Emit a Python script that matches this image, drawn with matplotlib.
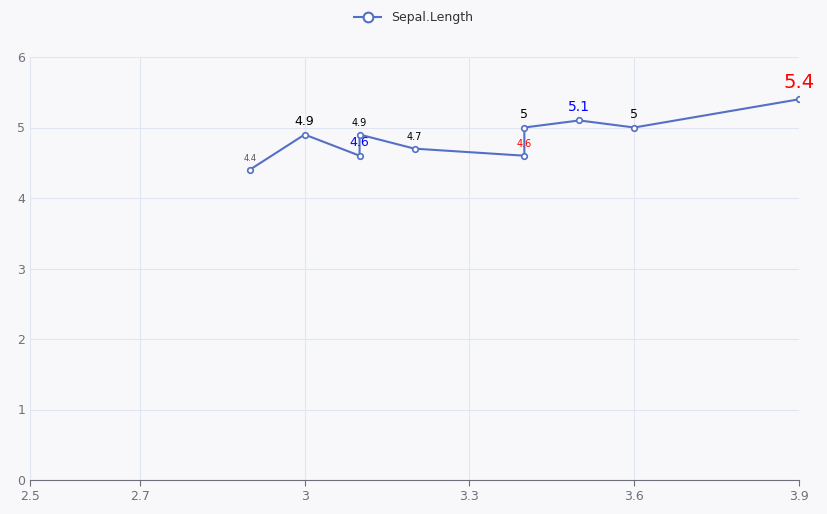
import matplotlib
matplotlib.use("Agg")
import matplotlib.pyplot as plt
from matplotlib.lines import Line2D

x = [2.9, 3.0, 3.1, 3.1, 3.2, 3.4, 3.4, 3.5, 3.6, 3.9]
y = [4.4, 4.9, 4.6, 4.9, 4.7, 4.6, 5.0, 5.1, 5.0, 5.4]
label_colors = ['#555555', 'black', 'blue', 'black', 'black', 'red', 'black', 'blue', 'black', 'red']
label_sizes = [6, 9, 9, 7, 7, 7, 9, 10, 9, 14]
xticks = [2.5, 2.7, 3.0, 3.3, 3.6, 3.9]
xticklabels = ['2.5', '2.7', '3', '3.3', '3.6', '3.9']

bg = '#f8f8fa'
fig = plt.figure(figsize=(8.27, 5.14), dpi=100, facecolor=bg)
ax = fig.add_axes([30/827, 34/514, 769/827, 423/514], facecolor=bg)
c = '#5470c6'
ax.plot(x, y, color=c, lw=1.5, marker='o', ms=4, mfc='white', mec=c, mew=1.2, zorder=3)
for xi, yi, col, s in zip(x, y, label_colors, label_sizes):
    ax.annotate(f'{yi:g}', (xi, yi), xytext=(0, 5), textcoords='offset points',
                ha='center', va='bottom', color=col, fontsize=s)
ax.set_xlim(2.5, 3.9)
ax.set_ylim(0, 6)
ax.set_xticks(xticks)
ax.set_xticklabels(xticklabels)
ax.set_yticks(range(7))
ax.grid(True, color='#e0e6f1', lw=0.8)
ax.set_axisbelow(True)
for s in ['top', 'right']:
    ax.spines[s].set_visible(False)
ax.spines['left'].set_visible(False)
ax.spines['bottom'].set_color('#6e7079')
ax.tick_params(axis='y', length=0, colors='#6e7079', labelsize=9)
ax.tick_params(axis='x', colors='#6e7079', labelsize=9, color='#6e7079', length=4)
h = Line2D([], [], color=c, lw=1.5, marker='o', ms=7, mfc='white', mec=c, mew=1.5)
fig.legend([h], ['Sepal.Length'], loc='upper center', bbox_to_anchor=(0.5, 1.0),
           frameon=False, fontsize=9, labelcolor='#333333', handlelength=2.2)
fig.savefig('out.png', facecolor=bg)
